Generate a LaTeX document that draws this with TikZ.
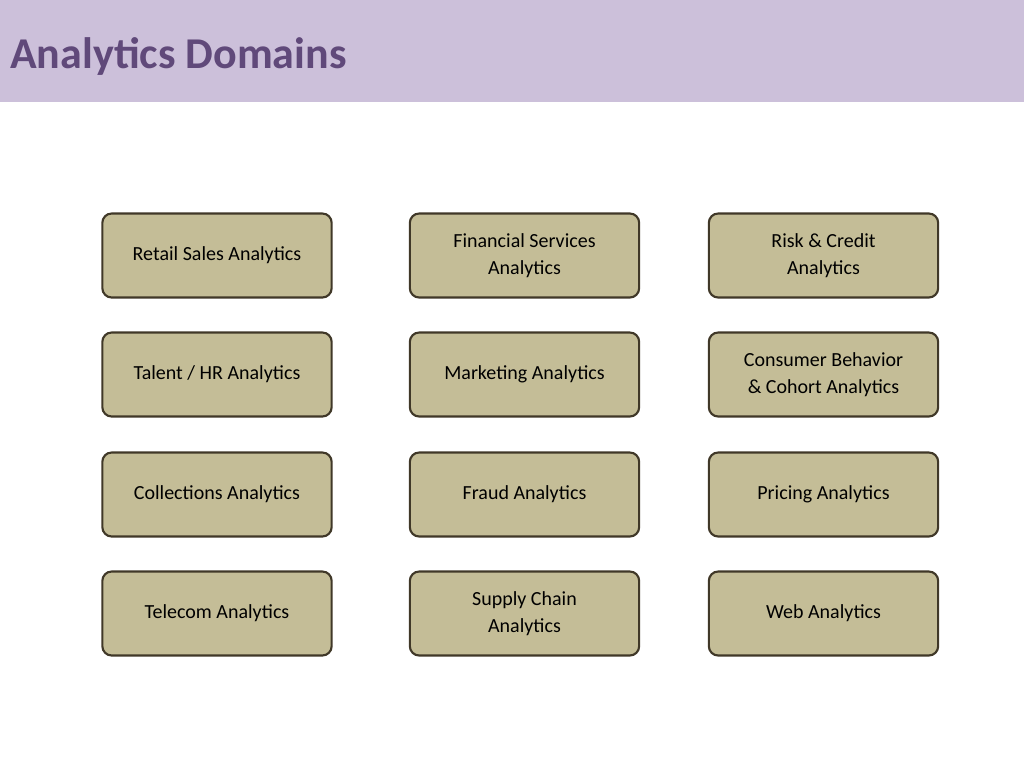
\documentclass[tikz,border=0pt]{standalone}
\usepackage{fontspec}
\setmainfont{Carlito}
\definecolor{band}{RGB}{204,192,218}
\definecolor{titlec}{RGB}{96,73,122}
\definecolor{boxfill}{RGB}{196,189,151}
\definecolor{boxdraw}{RGB}{64,56,40}
\tikzset{dom/.style={draw=boxdraw,line width=1.6pt,fill=boxfill,rounded corners=7pt,minimum width=172pt,minimum height=63pt,align=center,font=\fontsize{15}{20}\selectfont,inner sep=2pt}}
\begin{document}
\begin{tikzpicture}[x=0.75pt,y=-0.75pt]
\useasboundingbox (0,0) rectangle (1024,768);
\fill[band] (0,0) rectangle (1024,102);
\node[anchor=base west,text=titlec,font=\fontsize{33}{36}\selectfont\bfseries,inner sep=0] (title) at (10,68) {Analytics Domains};
\foreach \n/\x/\y/\t in {
a1/217/255.5/{Retail Sales Analytics},
a2/524.5/255.5/{Financial Services\\Analytics},
a3/823.5/255.5/{Risk \& Credit\\Analytics},
b1/217/374.5/{Talent / HR Analytics},
b2/524.5/374.5/{Marketing Analytics},
b3/823.5/374.5/{Consumer Behavior\\\& Cohort Analytics},
c1/217/494.5/{Collections Analytics},
c2/524.5/494.5/{Fraud Analytics},
c3/823.5/494.5/{Pricing Analytics},
d1/217/613.5/{Telecom Analytics},
d2/524.5/613.5/{Supply Chain\\Analytics},
d3/823.5/613.5/{Web Analytics}}
{\node[dom] (\n) at (\x,\y) {\t};}
\end{tikzpicture}
\end{document}
